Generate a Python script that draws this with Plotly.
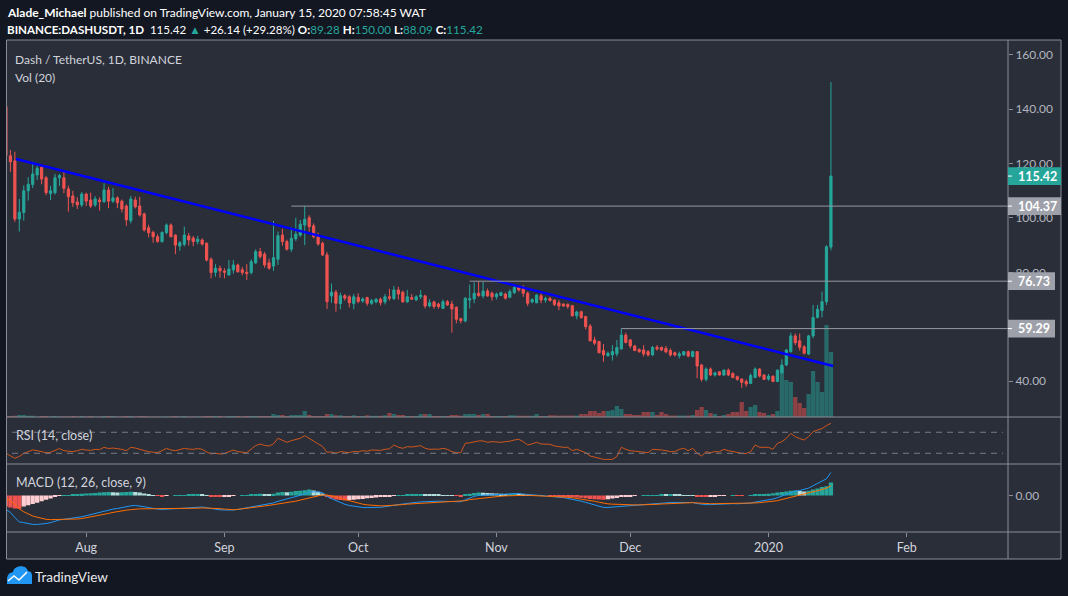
import plotly.graph_objects as go
import pandas as pd

W, H = 1068, 596
def fx(p): return p / W
def fy(p): return 1 - p / H

UP = "#26a69a"
DN = "#ef5350"
BG = "#131722"
PANE = "#2a2e39"
BORDER = "#8a8d96"
TXT = "#d1d4dc"
AXT = "#b2b5be"
FONT = "Lato"

dates = pd.date_range("2019-07-14", periods=186, freq="D")

opens = [141, 122.9, 121, 99.6, 102, 110, 112.3, 115.8, 118.7, 114.8,
         109, 109.3, 114.8, 114.8, 110.7, 108.1, 105.9, 104.8, 108.8, 106.6,
         104.8, 106.6, 106, 110.3, 106.2, 107.4, 106.2, 104.4, 99, 106.6,
         104.4, 101.5, 96.4, 94.7, 93.1, 91.3, 94.6, 97.4, 93.7, 89.7,
         90.3, 93.4, 92.6, 91.3, 91.9, 90.7, 84.8, 80, 81.5, 80.5,
         79, 80.9, 82.7, 80.9, 80, 79.9, 83.5, 87.6, 86.7, 83.5,
         82.3, 84.8, 93.7, 91.3, 88.5, 92.3, 93.7, 97.4, 100.1, 97.1,
         93.1, 90.7, 86.4, 71.3, 72.7, 68.5, 71.4, 71, 68.5, 70.8,
         69.4, 70.7, 68.6, 69.1, 70.1, 69.1, 71, 70.3, 73.5, 72.7,
         69.1, 70.7, 69.8, 71, 71.3, 67.6, 69.1, 68.3, 66.7, 69.2,
         68.3, 67.1, 62.9, 62.1, 69.8, 70.2, 72.3, 71.3, 73.1, 72.3,
         71, 71.5, 72, 70.8, 72.5, 74.5, 74.5, 72.3, 69.1, 68.8,
         71.4, 69.8, 70.4, 69.8, 68.8, 68.3, 68.2, 67.7, 64, 65.5,
         63.7, 60.2, 55.1, 54.5, 51.2, 49.3, 49.6, 50, 51.8, 56.9,
         55.1, 52.9, 51.6, 51.4, 50.8, 49.6, 52.4, 52.4, 52, 51.2,
         50.4, 49.3, 49.6, 50.8, 49, 50.8, 45.9, 40.6, 44.4, 42.2,
         43.4, 42.2, 44, 42.8, 41.6, 40.7, 39.8, 39.1, 41.3, 44.4,
         42.2, 40.7, 41.8, 39.8, 43, 45.9, 50.8, 56.6, 54.8, 52.6,
         49.9, 56.6, 63.4, 65.9, 69.2, 89.28]
highs = [141.5, 125, 124.4, 107, 112, 115, 120.7, 120, 119.5, 115.5,
         111.8, 116.2, 116.2, 117, 111.9, 110, 107.6, 109.6, 109.3, 109.3,
         108, 107.6, 112.8, 111.5, 111, 108, 106.8, 105, 108.1, 107.8,
         107.8, 102, 97.5, 95.3, 94, 95, 98, 98, 94, 91.5,
         96.8, 94.5, 93.4, 93.4, 92.5, 91, 85.5, 83, 82.5, 81.5,
         84.6, 84.5, 83.2, 82, 83, 84.8, 88.5, 89, 87.5, 85,
         98.9, 95, 96, 92, 96.6, 100.1, 99.3, 104.37, 101, 98,
         94.6, 91.3, 87.5, 75.9, 73.5, 72.5, 72, 71.6, 72, 72.3,
         70.8, 71, 70.2, 70.4, 70.7, 72, 73.9, 75, 74.7, 73.2,
         73.5, 72, 71.6, 73.5, 71.8, 70.1, 69.5, 68.8, 70, 69.8,
         69.6, 67.5, 63.3, 70.8, 75.5, 76.3, 76.73, 76.5, 74, 72.9,
         72.5, 72.9, 72.5, 73.7, 75.3, 75, 75.3, 72.9, 70.4, 72,
         72.3, 71, 71, 70, 69.8, 68.6, 68.6, 68, 65.9, 65.9,
         64, 61, 56.3, 54.8, 53.6, 50.8, 53.2, 55.1, 59.29, 57.8,
         55.5, 53.3, 52, 53.2, 51.4, 52.9, 53.2, 52.6, 52.9, 52,
         50.8, 50.8, 51, 51.2, 51.2, 51, 46.3, 45, 45, 43.4,
         43.6, 44.3, 44.6, 43.2, 42, 41, 40.6, 42.8, 45, 44.7,
         42.6, 42.6, 42, 44.3, 48, 51.8, 57.8, 57.5, 57.5, 53.2,
         57, 68, 68, 72.9, 90, 150]
lows = [122, 117, 98.6, 95, 99, 106.4, 111, 114, 112.4, 108.4,
        106.6, 108.6, 111.8, 109.1, 102.3, 104.1, 103.3, 104, 104.4, 103.6,
        104, 102.7, 105.5, 103.6, 105.5, 103.6, 102, 97.1, 98, 103.5,
        100.5, 95, 92.9, 90.9, 90.9, 90.9, 94, 92.9, 86.7, 87.9,
        89.5, 89.8, 89.6, 90.3, 89.8, 84, 77.8, 78.4, 78, 77.8,
        78.8, 79.5, 79.9, 78.9, 77.2, 79.2, 83, 85, 81.7, 81,
        80.5, 82.7, 89.8, 88, 87.5, 91.5, 93, 90, 95, 92.5,
        89.8, 86, 66.5, 68.8, 65.5, 66.4, 69.6, 67.1, 66.4, 68.6,
        68.8, 67.7, 68, 68.6, 67.8, 68.2, 69.6, 69.8, 70, 69,
        68.8, 69.8, 69.5, 70.2, 66.7, 67.1, 66.6, 66.6, 66.6, 67.6,
        57.8, 61.2, 61.2, 61.6, 66.7, 68.6, 71, 70.4, 71, 69.6,
        70, 71.3, 70, 70.5, 72, 72.9, 71, 67.6, 68.6, 68.6,
        68.6, 68.8, 69.3, 67.6, 66.1, 67.3, 66.6, 63.7, 62.7, 63,
        59, 54.5, 53.2, 50.2, 47.1, 49, 47.5, 49, 51.5, 53.8,
        52, 51, 50.4, 49, 49, 49.3, 51.2, 51, 50.2, 49,
        49, 48.3, 49.3, 48.7, 48.7, 41, 39.8, 39.8, 41.8, 41.6,
        42, 41.8, 41.8, 41, 40.1, 37.5, 37.9, 38.9, 41, 41.3,
        40.4, 40.1, 39.6, 39.6, 42.8, 45.5, 50.4, 53.2, 51.2, 49.8,
        49.6, 55.7, 63, 63.4, 68, 88.09]
closes = [123, 120.7, 99.6, 102.1, 110, 112.4, 116.2, 118.3, 114.3, 109.3,
          110, 114.8, 115.6, 110.9, 107.8, 105.6, 104.8, 108.8, 106.2, 104.4,
          107, 106, 110.3, 106.2, 107.4, 105.6, 103.3, 99.3, 107, 104.1,
          101.1, 95.6, 94.6, 93.1, 91.3, 94.7, 97.4, 93.1, 90, 90.9,
          93.7, 91.9, 91.3, 92.2, 90.4, 84.5, 79.9, 81.5, 80.5, 80,
          81.2, 82.7, 80.2, 79.9, 79.5, 83.9, 87.6, 85.8, 82.7, 81.5,
          85.4, 93.5, 91.3, 88.5, 92.5, 94.1, 97.7, 99.5, 96.8, 93.1,
          90.4, 86.4, 69.2, 72.7, 68.6, 71.4, 70.5, 68.8, 71, 69.3,
          70.2, 68.6, 69.6, 70.1, 68.8, 71, 70.5, 73.5, 72, 69.1,
          71, 70.1, 71, 71.6, 67.6, 68.8, 67.4, 67.4, 69.2, 68,
          66.5, 62.7, 62.2, 70.5, 70.3, 72.3, 71.4, 73.1, 71.3, 71,
          72, 72.5, 70.5, 72.9, 74.5, 73.5, 72.3, 68.6, 70, 71.6,
          69.8, 70.4, 69.6, 68.2, 67.6, 67.6, 67.4, 64, 65.4, 63.3,
          60, 54.8, 53.9, 50.4, 49.6, 50.2, 50.8, 52.3, 56.9, 54.2,
          52.9, 51.2, 50.8, 50, 49.6, 52.4, 51.8, 51.4, 50.7, 49.6,
          49.6, 50, 50.8, 49.2, 50.8, 45.5, 40.6, 44.4, 42.2, 43,
          42.2, 44, 42.2, 41.3, 40.6, 39.5, 38.9, 42, 44.4, 41.8,
          40.6, 41.8, 39.8, 44, 45.9, 51.4, 56.6, 54.1, 52.4, 50.2,
          56.6, 63.4, 66.4, 69.2, 89.4, 115.42]
# volume, thousand DASH
volumes = [1.2, 1.0, 1.3, 2, 2, 1.2, 1.2, 0.3, 1, 1,
           0.4, 1, 0.4, 0.4, 0.4, 1, 0.4, 1, 0.4, 1,
           0.4, 0.4, 1, 1, 1, 0.4, 0.4, 1, 1, 0.4,
           1, 1, 0.4, 0.3, 0.4, 0.3, 0.5, 0.4, 1, 0.4,
           1, 0.4, 0.4, 0.4, 0.4, 1, 1, 1, 1, 0.5,
           1, 1, 1, 0.5, 1, 1, 1, 1, 1, 1,
           3, 2, 2, 1, 2, 2, 2, 6, 2, 1,
           1, 1, 3, 3, 1.7, 1.7, 1, 1, 1.7, 1,
           1, 1.7, 1.2, 1.2, 1.2, 1.7, 4, 3, 2, 2,
           1, 1, 1, 3, 3, 3, 1, 1, 1, 1,
           2, 2, 1.3, 3, 3, 3, 2, 3, 3, 1,
           1, 1, 1, 1.7, 1.7, 1.3, 1.3, 1.3, 1.3, 3,
           1, 1, 1.7, 1.7, 1.3, 1.5, 1.5, 1.5, 1.5, 3,
           3, 6, 6, 4, 6, 6, 7, 11, 8, 3,
           3, 2, 2, 5, 5, 5, 2, 5, 3, 1.5,
           1.5, 1.5, 1.5, 1.5, 2, 7, 10, 7, 4, 3,
           1, 2, 3, 5, 5, 15, 6, 10, 12, 5,
           4, 2, 3, 6, 50, 37, 35, 20, 14, 9,
           23, 46, 35, 25, 92, 65]
rsi = [30, 25, 20.5, 24, 30, 33, 36.5, 35, 33, 31,
       32, 36, 39, 35, 33.5, 33, 35, 37.6, 36.3, 35.5,
       37.6, 37, 41.4, 39, 40, 39, 37.5, 35, 41.4, 40,
       37.6, 34, 33, 32, 31.5, 35, 39.5, 36.3, 35, 37,
       39.5, 38, 37.6, 38.9, 37.6, 32.5, 29, 30, 28.7, 29.5,
       33, 36.3, 33.1, 32.5, 31.2, 38, 44.5, 47.7, 45, 43.9,
       48, 58.5, 55, 50.9, 54, 56, 58.5, 63.6, 58, 52,
       48, 43, 31.9, 32.5, 30, 33.1, 32.3, 31.2, 33.5, 33,
       35, 34, 36.3, 36.3, 35.5, 37.6, 38.5, 45.9, 41.5, 39.5,
       42.6, 42, 43.9, 44.5, 39.5, 37.6, 38, 37.6, 39.5, 37.6,
       33.1, 31.2, 31, 49, 50, 52.2, 53.5, 53.5, 50.9, 52.2,
       51.5, 50.9, 52.2, 53, 55.3, 56.6, 52.2, 45.8, 48, 50.9,
       47.7, 47.7, 47.1, 44, 42.6, 41.4, 41.4, 35, 37.6, 35,
       31.2, 24.8, 23, 20.4, 18.4, 18.4, 18.4, 24, 41.4, 37.6,
       35, 34, 33.1, 33, 31.2, 37.6, 37.6, 36.3, 35, 33.1,
       33.1, 37.6, 39.5, 35, 39.5, 30, 24.8, 33.1, 31.2, 33.1,
       33, 37.6, 35, 33, 31.2, 29.9, 29.5, 33.1, 45.8, 41.4,
       41.4, 41.4, 37.6, 49, 52, 58.5, 68, 61.7, 58, 55.3,
       62, 71.2, 74.4, 77, 82.6, 87.1]
macd = [-4.6, -5.6, -7.3, -8.8, -9.0, -9.4, -9.6, -9.6, -9.5, -9.3,
        -9.0, -8.5, -8.1, -7.9, -7.75, -7.6, -7.4, -7.05, -6.7, -6.3,
        -5.9, -5.5, -5.2, -4.75, -4.5, -4.3, -3.95, -3.65, -3.4, -3.3,
        -3.4, -3.7, -4.0, -4.3, -4.5, -4.6, -4.45, -4.4, -4.35, -4.3,
        -4.2, -4.0, -3.9, -3.8, -3.8, -4.05, -4.35, -4.55, -4.75, -4.8,
        -4.85, -4.8, -4.6, -4.35, -4.1, -3.7, -3.4, -3.1, -2.95, -2.85,
        -2.45, -1.9, -1.5, -1.35, -0.8, -0.35, 0.1, 0.6, 1.15, 1.25,
        1.25, 0.95, -0.3, -1.0, -1.65, -2.4, -2.9, -3.3, -3.6, -3.8,
        -3.95, -4.0, -4.05, -3.95, -3.9, -3.7, -3.55, -3.35, -3.0, -2.8,
        -2.55, -2.4, -2.25, -2.1, -2.0, -1.95, -1.9, -1.85, -1.9, -1.95,
        -2.0, -2.05, -2.05, -1.4, -0.75, -0.25, 0.05, 0.15, 0.25, 0.3,
        0.4, 0.4, 0.4, 0.6, 0.75, 0.7, 0.5, 0.3, 0.15, 0.15,
        0.0, -0.1, -0.25, -0.35, -0.45, -0.65, -0.95, -1.2, -1.5, -1.85,
        -2.25, -2.7, -3.1, -3.5, -3.95, -3.95, -3.85, -3.75, -3.55, -3.4,
        -3.25, -3.15, -3.1, -3.08, -3.0, -2.9, -2.7, -2.5, -2.42, -2.28,
        -2.25, -2.2, -2.2, -2.15, -2.3, -2.65, -2.9, -3.0, -3.0, -2.9,
        -2.8, -2.75, -2.7, -2.68, -2.72, -2.73, -2.7, -2.5, -2.15, -1.95,
        -1.75, -1.5, -1.15, -0.7, -0.1, 0.5, 1.05, 1.5, 1.7, 2.0,
        2.5, 3.3, 4.05, 4.9, 5.6, 7.7]
signal = [-1.0, -1.6, -3.0, -4.4, -5.4, -6.2, -6.8, -7.2, -7.6, -7.9,
          -8.0, -8.0, -8.0, -8.0, -7.95, -7.9, -7.8, -7.65, -7.4, -7.1,
          -6.8, -6.5, -6.3, -5.95, -5.6, -5.3, -5.05, -4.85, -4.7, -4.5,
          -4.4, -4.4, -4.4, -4.4, -4.4, -4.4, -4.4, -4.4, -4.4, -4.4,
          -4.4, -4.3, -4.25, -4.2, -4.1, -4.1, -4.15, -4.25, -4.35, -4.5,
          -4.65, -4.7, -4.6, -4.45, -4.3, -4.1, -3.9, -3.7, -3.45, -3.25,
          -3.05, -2.9, -2.7, -2.45, -2.1, -1.85, -1.5, -1.2, -0.85, -0.45,
          -0.05, 0.25, 0.2, 0.0, -0.35, -0.9, -1.3, -1.8, -2.2, -2.6,
          -2.85, -3.1, -3.25, -3.35, -3.4, -3.4, -3.35, -3.25, -3.1, -3.0,
          -2.85, -2.75, -2.65, -2.55, -2.4, -2.3, -2.2, -2.1, -2.1, -2.1,
          -2.05, -1.95, -1.85, -1.7, -1.35, -1.15, -0.95, -0.8, -0.65, -0.5,
          -0.3, -0.2, -0.1, 0.0, 0.05, 0.1, 0.1, 0.1, 0.05, 0.0,
          -0.05, -0.1, -0.2, -0.25, -0.3, -0.45, -0.55, -0.7, -0.9, -1.15,
          -1.35, -1.6, -1.9, -2.2, -2.6, -2.75, -2.85, -2.95, -3.05, -3.1,
          -3.1, -3.1, -3.1, -3.1, -3.05, -3.0, -2.9, -2.8, -2.7, -2.6,
          -2.55, -2.45, -2.4, -2.3, -2.35, -2.45, -2.6, -2.65, -2.7, -2.7,
          -2.7, -2.7, -2.7, -2.7, -2.7, -2.7, -2.7, -2.6, -2.45, -2.35,
          -2.25, -2.1, -1.95, -1.7, -1.3, -0.9, -0.55, -0.2, 0.2, 0.6,
          0.9, 1.3, 1.65, 2.0, 2.5, 3.3]
hist = [-3.6, -4.0, -4.3, -4.4, -3.6, -3.2, -2.8, -2.4, -1.9, -1.4,
        -1.0, -0.5, -0.1, 0.1, 0.2, 0.3, 0.4, 0.6, 0.7, 0.8,
        0.9, 1.0, 1.1, 1.2, 1.1, 1.0, 1.1, 1.2, 1.3, 1.2,
        1.0, 0.7, 0.4, 0.1, -0.1, -0.2, -0.05, 0.0, 0.05, 0.1,
        0.2, 0.3, 0.35, 0.4, 0.3, 0.05, -0.2, -0.3, -0.4, -0.3,
        -0.2, -0.1, 0.0, 0.1, 0.2, 0.4, 0.5, 0.6, 0.5, 0.4,
        0.6, 1.0, 1.2, 1.1, 1.3, 1.5, 1.6, 1.8, 2.0, 1.7,
        1.3, 0.7, -0.5, -1.0, -1.3, -1.5, -1.6, -1.5, -1.4, -1.2,
        -1.1, -0.9, -0.8, -0.6, -0.5, -0.3, -0.2, -0.1, 0.1, 0.2,
        0.3, 0.35, 0.4, 0.45, 0.4, 0.35, 0.3, 0.25, 0.2, 0.15,
        0.05, -0.1, -0.2, 0.3, 0.6, 0.9, 1.0, 0.95, 0.9, 0.8,
        0.7, 0.6, 0.5, 0.6, 0.7, 0.6, 0.4, 0.2, 0.1, 0.15,
        0.05, 0.0, -0.05, -0.1, -0.15, -0.2, -0.4, -0.5, -0.6, -0.7,
        -0.9, -1.1, -1.2, -1.3, -1.35, -1.2, -1.0, -0.8, -0.5, -0.3,
        -0.15, -0.05, 0.0, 0.02, 0.05, 0.1, 0.2, 0.3, 0.28, 0.32,
        0.3, 0.25, 0.2, 0.15, 0.05, -0.2, -0.3, -0.35, -0.3, -0.2,
        -0.1, -0.05, 0.0, 0.02, -0.02, -0.03, 0.0, 0.1, 0.3, 0.4,
        0.5, 0.6, 0.8, 1.0, 1.2, 1.4, 1.6, 1.7, 1.5, 1.4,
        1.6, 2.0, 2.4, 2.9, 3.1, 4.4]

levels = [104.37, 76.73, 59.29]
level_starts = ["2019-09-16", "2019-10-26", "2019-11-29"]
trend_dates = ["2019-07-16 06:00", "2020-01-15 12:00"]
trend_prices = [121.7, 45.5]
month_ticks = ["2019-08-01", "2019-09-01", "2019-10-01", "2019-11-01",
               "2019-12-01", "2020-01-01", "2020-02-01"]
month_labels = ["Aug", "Sep", "Oct", "Nov", "Dec", "2020", "Feb"]
price_ticks = [40, 80, 100, 120, 140, 160]
last_price = 115.42

x_range = ["2019-07-14 03:00", "2020-02-23 17:00"]

# pixel geometry
XL, XR, FR = 6.5, 1008, 1061
TOP, MB, RB, CB, FB = 40, 417, 464, 532, 559
xdom = [fx(XL), fx(XR)]

vol_colors = ["rgba(38,166,154,0.5)" if c >= o else "rgba(239,83,80,0.5)"
              for o, c in zip(opens, closes)]
hist_colors = []
prev = 0
for h in hist:
    if h >= 0:
        hist_colors.append(UP if h >= prev else "#b2dfdb")
    else:
        hist_colors.append("#ffcdd2" if h > prev else DN)
    prev = h

fig = go.Figure()
fig.add_trace(go.Bar(x=dates, y=volumes, marker=dict(color=vol_colors, line=dict(width=0)),
                     xaxis="x", yaxis="y", hoverinfo="skip"))
fig.add_trace(go.Candlestick(x=dates, open=opens, high=highs, low=lows, close=closes,
                             xaxis="x", yaxis="y2", whiskerwidth=0,
                             increasing=dict(line=dict(color=UP, width=1), fillcolor=UP),
                             decreasing=dict(line=dict(color=DN, width=1), fillcolor=DN),
                             hoverinfo="skip"))
fig.add_trace(go.Scatter(x=trend_dates, y=trend_prices, mode="lines",
                         line=dict(color="#0000ff", width=2.5), xaxis="x", yaxis="y2",
                         hoverinfo="skip"))
for lv, st in zip(levels, level_starts):
    fig.add_trace(go.Scatter(x=[st, x_range[1]], y=[lv, lv], mode="lines",
                             line=dict(color="#9598a1", width=1), xaxis="x", yaxis="y2",
                             hoverinfo="skip"))
fig.add_trace(go.Scatter(x=dates, y=rsi, mode="lines", line=dict(color="#d0561c", width=1),
                         xaxis="x2", yaxis="y3", hoverinfo="skip"))
fig.add_trace(go.Bar(x=dates, y=hist, marker=dict(color=hist_colors, line=dict(width=0)),
                     xaxis="x3", yaxis="y4", hoverinfo="skip"))
fig.add_trace(go.Scatter(x=dates, y=macd, mode="lines", line=dict(color="#2196f3", width=1),
                         xaxis="x3", yaxis="y4", hoverinfo="skip"))
fig.add_trace(go.Scatter(x=dates, y=signal, mode="lines", line=dict(color="#ff6d00", width=1),
                         xaxis="x3", yaxis="y4", hoverinfo="skip"))

noax = dict(showgrid=False, zeroline=False, showline=False)
fig.update_layout(
    width=W, height=H, margin=dict(l=0, r=0, t=0, b=0),
    paper_bgcolor=BG, plot_bgcolor="rgba(0,0,0,0)",
    showlegend=False, bargap=0.04, barmode="overlay", hovermode=False,
    font=dict(family=FONT, color=TXT, size=12),
    xaxis=dict(domain=xdom, anchor="y", range=x_range, type="date", showticklabels=False,
               rangeslider=dict(visible=False), **noax),
    xaxis2=dict(domain=xdom, anchor="y3", matches="x", showticklabels=False, **noax),
    xaxis3=dict(domain=xdom, anchor="y4", matches="x", tickvals=month_ticks, ticktext=month_labels,
                ticks="outside", ticklen=4, tickcolor=BORDER, tickfont=dict(color=TXT, size=12.5),
                **noax),
    yaxis=dict(domain=[fy(MB), fy(TOP)], range=[0, 377], visible=False, fixedrange=True),
    yaxis2=dict(domain=[fy(MB), fy(TOP)], overlaying="y", side="right", anchor="x",
                range=[26.75, 165.5], tickvals=price_ticks,
                ticktext=[f"{v:.2f}" for v in price_ticks], ticks="outside", ticklen=4,
                tickcolor=BORDER, tickfont=dict(color=AXT, size=12), **noax),
    yaxis3=dict(domain=[fy(RB), fy(MB)], anchor="x2", range=[9.6, 99.1], visible=False),
    yaxis4=dict(domain=[fy(CB), fy(RB)], anchor="x3", side="right", range=[-12.13, 10.53],
                tickvals=[0], ticktext=["0.00"], ticks="outside", ticklen=4, tickcolor=BORDER,
                tickfont=dict(color=AXT, size=12), **noax),
)

shapes = []
shapes.append(dict(type="rect", xref="paper", yref="paper", x0=fx(XL), x1=fx(FR),
                   y0=fy(FB), y1=fy(TOP), fillcolor=PANE, line=dict(width=0), layer="below"))
for yy in (MB, RB, CB):
    shapes.append(dict(type="line", xref="paper", yref="paper", x0=fx(XL), x1=fx(FR),
                       y0=fy(yy), y1=fy(yy), line=dict(color=BORDER, width=1), layer="above"))
shapes.append(dict(type="line", xref="paper", yref="paper", x0=fx(XR), x1=fx(XR),
                   y0=fy(FB), y1=fy(TOP), line=dict(color=BORDER, width=1), layer="above"))
shapes.append(dict(type="rect", xref="paper", yref="paper", x0=fx(XL), x1=fx(FR),
                   y0=fy(FB), y1=fy(TOP), line=dict(color=BORDER, width=1), layer="above"))
for lv in (70, 30):
    shapes.append(dict(type="line", xref="paper", yref="y3", x0=fx(12), x1=fx(1003),
                       y0=lv, y1=lv, line=dict(color="#787b86", width=1, dash="6px,5px"),
                       layer="above"))

annotations = []
# price boxes
boxes = [(last_price, UP, FR), (levels[0], "#9ea1aa", FR), (levels[1], "#9ea1aa", 1055),
         (levels[2], "#9ea1aa", 1055)]
for val, col, xr in boxes:
    shapes.append(dict(type="rect", xref="paper", yref="y2", x0=fx(XR), x1=fx(xr),
                       y0=val - 3.25, y1=val + 3.25, fillcolor=col, line=dict(width=0),
                       layer="above"))
    shapes.append(dict(type="line", xref="paper", yref="y2", x0=fx(XR), x1=fx(XR + 4),
                       y0=val, y1=val, line=dict(color="#ffffff", width=1), layer="above"))
    annotations.append(dict(xref="paper", yref="y2", x=fx(1016), y=val, xanchor="left",
                            yanchor="middle", text=f"<b>{val:.2f}</b>", showarrow=False,
                            font=dict(color="#ffffff", size=12.5, family=FONT)))

T = UP
def ann(x, y, text, size=12, color=TXT):
    annotations.append(dict(xref="paper", yref="paper", x=fx(x), y=fy(y), xanchor="left",
                            yanchor="middle", text=text, showarrow=False,
                            font=dict(color=color, size=size, family=FONT)))

ann(5, 13, "<b>Alade_Michael</b> published on TradingView.com, January 15, 2020 07:58:45 WAT",
    size=12, color="#ffffff")
ann(5, 30, f"<b>BINANCE:DASHUSDT, 1D</b>  115.42 <span style='color:{T}'>▲</span> +26.14 (+29.28%) "
    f"<b>O:</b><span style='color:{T}'>89.28</span> <b>H:</b><span style='color:{T}'>150.00</span> "
    f"<b>L:</b><span style='color:{T}'>88.09</span> <b>C:</b><span style='color:{T}'>115.42</span>",
    size=11.6, color="#ffffff")
ann(13, 60, "Dash / TetherUS, 1D, BINANCE", size=12)
ann(13, 78, "Vol (20)", size=12)
ann(14, 435, "RSI (14, close)", size=12.5)
ann(14, 482, "MACD (12, 26, close, 9)", size=12.5)
ann(33, 577, "TradingView", size=13.5, color="#e8eaed")

# TradingView logo icon
def path(pts, close=True):
    s = "M " + " L ".join(f"{fx(x):.5f},{fy(y):.5f}" for x, y in pts)
    return s + (" Z" if close else "")
cloud = [(7, 584), (7, 578), (8, 575), (10, 573), (13, 572), (14, 569), (17, 567), (21, 566),
         (25, 567), (27, 569), (28, 571), (31, 572), (32, 575), (32, 578), (32, 584)]
shapes.append(dict(type="path", xref="paper", yref="paper", path=path(cloud),
                   fillcolor="#2196f3", line=dict(width=0), layer="above"))
shapes.append(dict(type="path", xref="paper", yref="paper",
                   path=path([(8, 581), (14, 576), (19, 580), (27, 572)], close=False),
                   line=dict(color="#ffffff", width=1.5), layer="above"))

fig.update_layout(shapes=shapes, annotations=annotations)
fig.write_html("out.html", config={"displayModeBar": False},
               post_script="document.body.style.margin='0';document.body.style.overflow='hidden';")
